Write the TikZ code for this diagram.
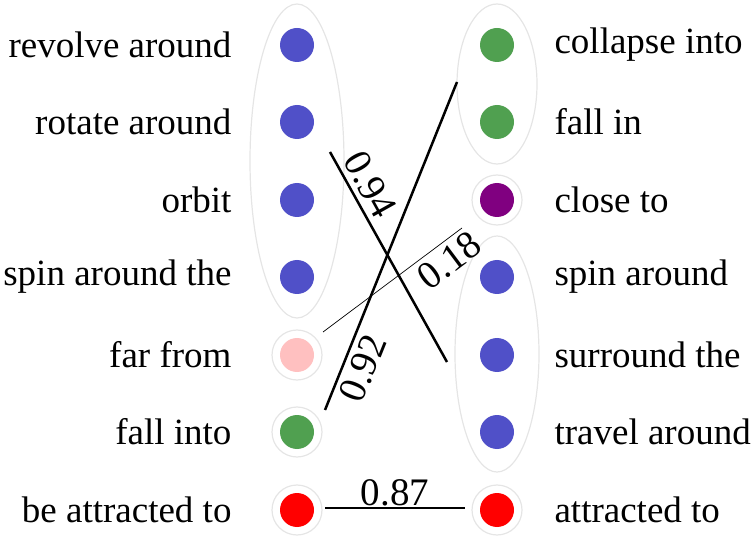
\documentclass[tikz,border=0pt]{standalone}
\usepackage{fontspec}
\setmainfont{Liberation Serif}
\begin{document}
\begin{tikzpicture}[x=1pt,y=-1pt,
  dot/.style={circle,minimum size=34pt,inner sep=0pt},
  grp/.style={draw=black!10,line width=1.2pt},
  lt/.style={anchor=east,font=\fontsize{37}{40}\selectfont},
  rt/.style={anchor=west,font=\fontsize{37}{40}\selectfont},
  lab/.style={font=\fontsize{39}{40}\selectfont,inner sep=5pt},
  conn/.style={line width=2.5pt}]
\useasboundingbox (0,0) rectangle (753,540);
\definecolor{cb}{RGB}{80,80,200}
\definecolor{cg}{RGB}{80,160,80}
\definecolor{cp}{RGB}{128,0,128}
\definecolor{cpk}{RGB}{255,192,192}
\draw[grp] (297,161) ellipse (47 and 157);
\draw[grp] (297,355) circle (25);
\draw[grp] (297,432) circle (25);
\draw[grp] (297,510) circle (25);
\draw[grp] (497,84) ellipse (40 and 80);
\draw[grp] (497,200) circle (25);
\draw[grp] (497,354) ellipse (42 and 118);
\draw[grp] (497,510) circle (25);
\foreach \n/\y/\c/\t in {l1/45/cb/revolve around,l2/122/cb/rotate around,l3/200/cb/orbit,l4/277/cb/spin around the,l5/355/cpk/far from,l6/432/cg/fall into,l7/510/red/be attracted to}{
  \node[dot,fill=\c] (\n) at (297,\y) {};
  \node[lt] (\n t) at (235,\y) {\t};
}
\foreach \n/\y/\c/\t in {r1/45/cg/collapse into,r2/122/cg/fall in,r3/200/cp/close to,r4/277/cb/spin around,r5/355/cb/surround the,r6/432/cb/travel around,r7/510/red/attracted to}{
  \node[dot,fill=\c] (\n) at (497,\y) {};
  \node[rt] (\n t) at (551,\y) {\t};
}
\coordinate (a1) at (330,152); \coordinate (a2) at (447,362);
\coordinate (b1) at (325,410); \coordinate (b2) at (457,82);
\coordinate (c1) at (323,332); \coordinate (c2) at (462,228);
\coordinate (d1) at (325,508); \coordinate (d2) at (465,508);
\draw[conn] (a1) -- node[lab,sloped,above,pos=0.2]{0.94} (a2);
\draw[conn] (b1) -- node[lab,sloped,below,pos=0.15]{0.92} (b2);
\draw[line width=0.7pt] (c1) -- node[lab,sloped,below,pos=0.83]{0.18} (c2);
\draw[conn] (d1) -- node[lab,above,inner sep=1pt]{0.87} (d2);
\end{tikzpicture}
\end{document}
